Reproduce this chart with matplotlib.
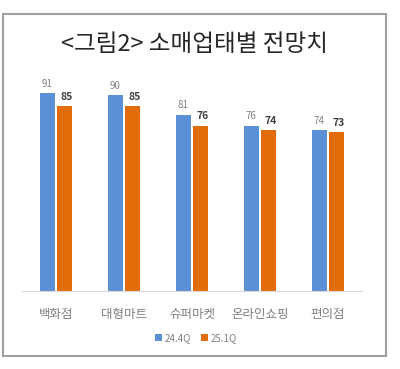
import matplotlib
matplotlib.use('Agg')
import matplotlib.pyplot as plt
import numpy as np
from matplotlib.patches import Rectangle

plt.rcParams['font.family'] = ['Noto Sans CJK KR', 'DejaVu Sans']

categories = ['백화점', '대형마트', '슈퍼마켓', '온라인쇼핑', '편의점']
q244 = [91, 90, 81, 76, 74]
q251 = [85, 85, 76, 74, 73]
series_names = ['24.4Q', '25.1Q']

blue = '#5b8fd6'
orange = '#e36c0a'

fig = plt.figure(figsize=(4, 3.69), dpi=100)
ax = fig.add_axes([0.055, 0.2114, 0.85, 0.59])

x = np.arange(len(categories))
w = 0.22
b1 = ax.bar(x - 0.13, q244, w, color=blue, label=series_names[0])
b2 = ax.bar(x + 0.13, q251, w, color=orange, label=series_names[1])

for r, v in zip(b1, q244):
    ax.text(r.get_x() + r.get_width() / 2, v + 2, str(v), ha='center', va='bottom',
            fontsize=7, color='#808080')
for r, v in zip(b2, q251):
    ax.text(r.get_x() + r.get_width() / 2 + 0.02, v + 2, str(v), ha='center', va='bottom',
            fontsize=7.5, color='#404040', fontweight='bold')

ax.set_xlim(-0.5, 4.5)
ax.set_ylim(0, 100)
ax.set_yticks([])
ax.set_xticks(x)
ax.set_xticklabels(categories, fontsize=9, color='#808080')
ax.tick_params(axis='x', length=0, pad=12)
for s in ['top', 'right', 'left']:
    ax.spines[s].set_visible(False)
ax.spines['bottom'].set_color('#d9d9d9')

fig.legend(handles=[b1, b2], labels=series_names, loc='center', bbox_to_anchor=(0.49, 0.085),
           ncol=2, frameon=False, fontsize=7, handlelength=0.7, handleheight=0.7,
           handletextpad=0.3, columnspacing=1.0, labelcolor='#808080')

fig.text(0.487, 0.88, '<그림2> 소매업태별 전망치', ha='center', va='center', fontsize=17, color='#262626')

fig.patches.append(Rectangle((0.008, 0.035), 0.957, 0.927, transform=fig.transFigure,
                             fill=False, edgecolor='#a0a0a0', linewidth=1.5))

fig.savefig('out.png', dpi=100)
